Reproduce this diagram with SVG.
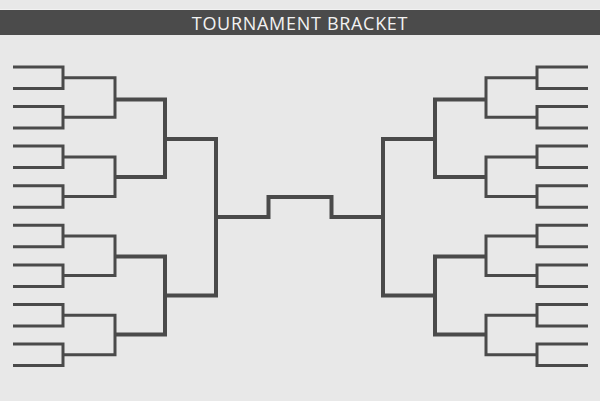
<svg xmlns="http://www.w3.org/2000/svg" width="600" height="401" viewBox="0 0 600 401">
<style>
.bg{fill:#e8e8e8}
.bar{fill:#4b4b4b}
.title{font-family:"Open Sans","Liberation Sans",sans-serif;font-size:18px;letter-spacing:0.7px;fill:#f2f2f2;text-anchor:middle}
.w{fill:none;stroke:#4a4a4a;stroke-width:3;stroke-linejoin:miter;stroke-linecap:butt}
.t{fill:none;stroke:#4a4a4a;stroke-width:4;stroke-linejoin:miter;stroke-linecap:butt}
</style>
<rect class="bg" x="0" y="0" width="600" height="401"/>
<g id="header">
<rect x="0" y="9" width="600" height="1" fill="#f2f2f2"/>
<rect class="bar" x="0" y="10" width="600" height="25"/>
<text class="title" x="300" y="29.5">TOURNAMENT BRACKET</text>
</g>
<g id="left-round1">
<path id="L1" class="w" d="M13 67H63V88.5H13"/>
<path id="L2" class="w" d="M13 106.6H63V128.1H13"/>
<path id="L3" class="w" d="M13 146.1H63V167.6H13"/>
<path id="L4" class="w" d="M13 185.7H63V207.2H13"/>
<path id="L5" class="w" d="M13 225.3H63V246.8H13"/>
<path id="L6" class="w" d="M13 264.9H63V286.4H13"/>
<path id="L7" class="w" d="M13 304.4H63V325.9H13"/>
<path id="L8" class="w" d="M13 344H63V365.5H13"/>
</g>
<g id="right-round1">
<path id="R1" class="w" d="M588 67H537V88.5H588"/>
<path id="R2" class="w" d="M588 106.6H537V128.1H588"/>
<path id="R3" class="w" d="M588 146.1H537V167.6H588"/>
<path id="R4" class="w" d="M588 185.7H537V207.2H588"/>
<path id="R5" class="w" d="M588 225.3H537V246.8H588"/>
<path id="R6" class="w" d="M588 264.9H537V286.4H588"/>
<path id="R7" class="w" d="M588 304.4H537V325.9H588"/>
<path id="R8" class="w" d="M588 344H537V365.5H588"/>
</g>
<g id="connectors">
<path class="w" d="M63 77.75H115V117.3H63"/>
<path class="w" d="M63 156.9H115V196.5H63"/>
<path class="w" d="M63 236H115V275.6H63"/>
<path class="w" d="M63 315.2H115V354.7H63"/>
<path class="w" d="M537 77.75H486V117.3H537"/>
<path class="w" d="M537 156.9H486V196.5H537"/>
<path class="w" d="M537 236H486V275.6H537"/>
<path class="w" d="M537 315.2H486V354.7H537"/>
<path class="t" d="M115 99.5H165V177H115"/>
<path class="t" d="M115 256.5H165V334.5H115"/>
<path class="t" d="M486 99.5H435V177H486"/>
<path class="t" d="M486 256.5H435V334.5H486"/>
<path class="t" d="M165 139H216V295.5H165"/>
<path class="t" d="M435 139H383V295.5H435"/>
<path class="t" d="M216 217H268.5V197H331.5V217H383"/>
</g>
</svg>
